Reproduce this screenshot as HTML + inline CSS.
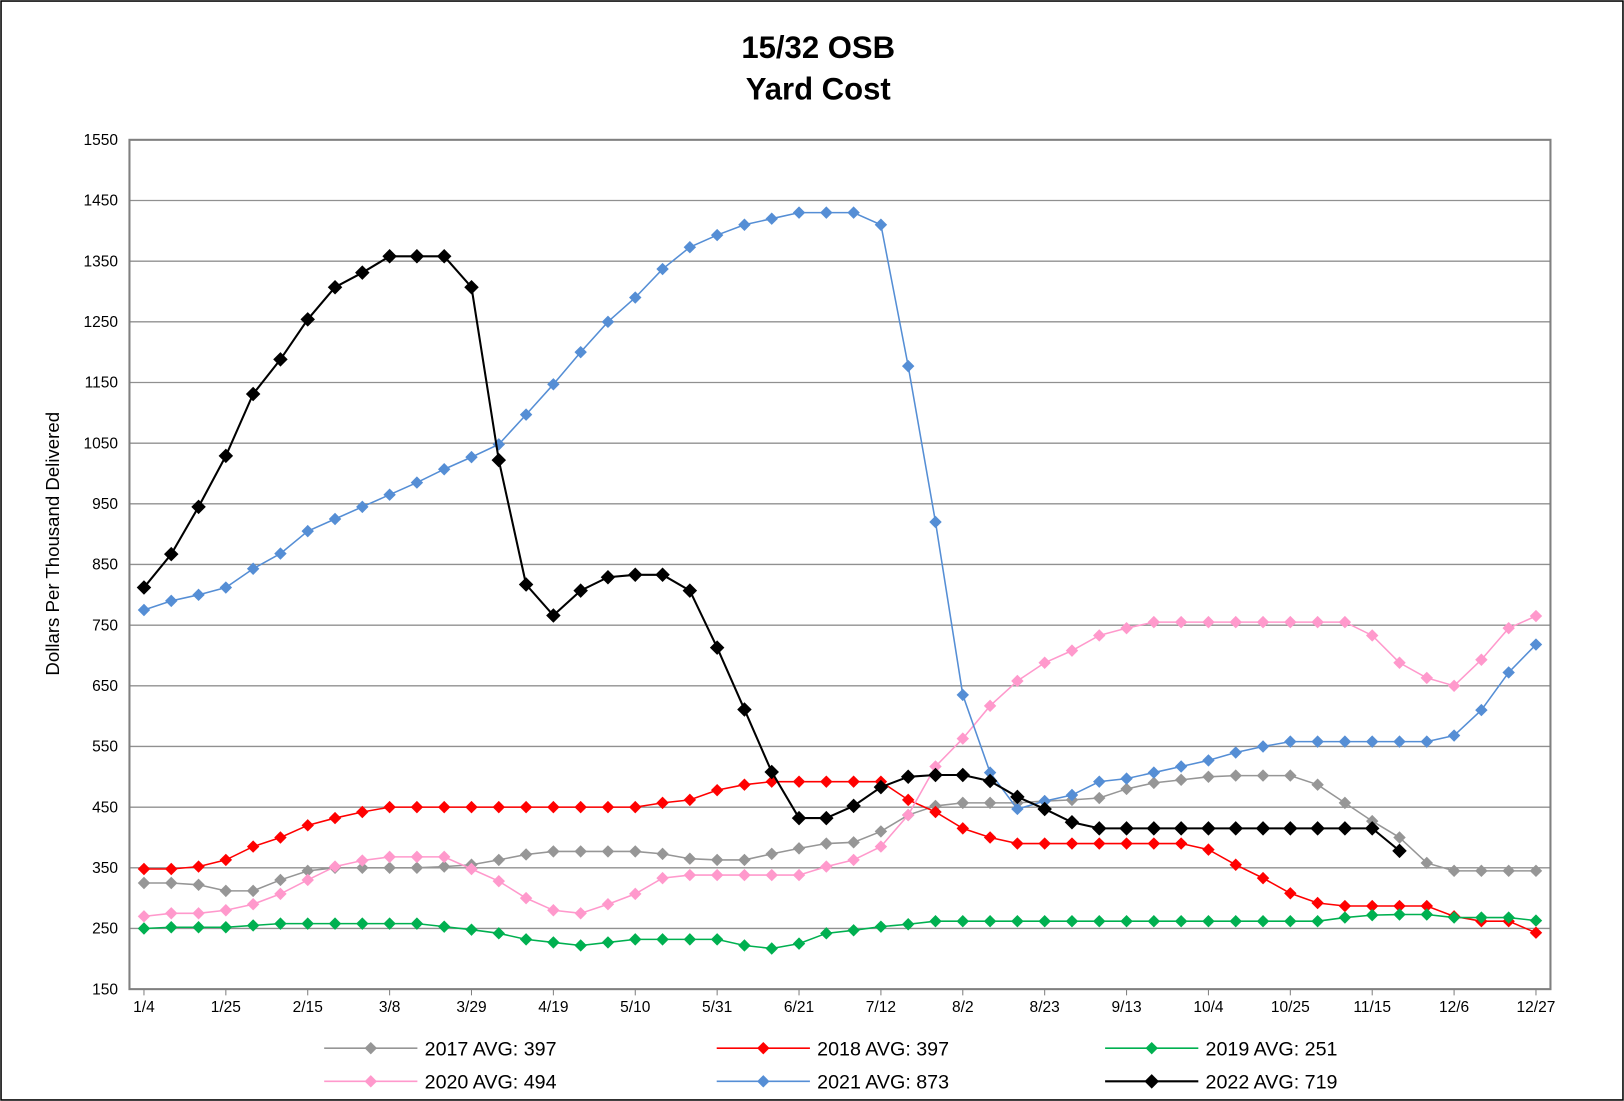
<!DOCTYPE html>
<html><head><meta charset="utf-8"><style>
html,body{margin:0;padding:0;background:#fff}
svg{display:block;font-family:"Liberation Sans",Arial,sans-serif}
</style></head><body>
<svg id="chart" width="1624" height="1101" viewBox="0 0 1568 1063" preserveAspectRatio="none">
<rect x="1" y="1" width="1566" height="1061" fill="#fff" stroke="#000" stroke-width="1.5"/>
<text x="790" y="56" text-anchor="middle" font-size="30" font-weight="bold">15/32 OSB</text>
<text x="790" y="96" text-anchor="middle" font-size="30" font-weight="bold">Yard Cost</text>
<text transform="translate(57,525) rotate(-90)" text-anchor="middle" font-size="18">Dollars Per Thousand Delivered</text>
<g id="grid"></g>
<g id="yticks"></g>
<g id="xticks"></g>
<rect x="125" y="135" width="1372" height="820" fill="none" stroke="#808080" stroke-width="2"/>
<g id="series"></g>
<g id="legend"></g>
</svg>
<script>
const xLabels=["1/4","1/25","2/15","3/8","3/29","4/19","5/10","5/31","6/21","7/12","8/2","8/23","9/13","10/4","10/25","11/15","12/6","12/27"];
const yTicks=[150,250,350,450,550,650,750,850,950,1050,1150,1250,1350,1450,1550];
const s2017=[325,325,322,312,312,330,345,350,350,350,350,352,355,363,372,377,377,377,377,373,365,363,363,373,382,390,392,410,437,452,457,457,457,460,462,465,480,490,495,500,502,502,502,487,457,427,400,358,345,345,345,345];
const s2018=[348,348,352,363,385,400,420,432,442,450,450,450,450,450,450,450,450,450,450,457,462,478,487,492,492,492,492,492,462,442,415,400,390,390,390,390,390,390,390,380,355,333,308,292,287,287,287,287,270,262,262,243];
const s2019=[250,252,252,252,255,258,258,258,258,258,258,253,248,242,232,227,222,227,232,232,232,232,222,217,225,242,247,253,257,262,262,262,262,262,262,262,262,262,262,262,262,262,262,262,268,272,273,273,268,268,268,263];
const s2020=[270,275,275,280,290,307,330,352,362,368,368,368,348,328,300,280,275,290,307,333,338,338,338,338,338,352,363,385,437,517,563,617,658,688,708,733,745,755,755,755,755,755,755,755,755,733,688,663,650,693,745,765];
const s2021=[775,790,800,812,843,868,905,925,945,965,985,1007,1027,1048,1097,1147,1200,1250,1290,1337,1373,1393,1410,1420,1430,1430,1430,1410,1177,920,635,507,447,460,470,492,497,507,517,527,540,550,558,558,558,558,558,558,568,610,672,718];
const s2022=[812,867,945,1029,1131,1188,1254,1307,1331,1358,1358,1358,1307,1022,817,766,807,829,833,833,807,713,611,508,432,432,452,483,500,503,503,493,467,447,425,415,415,415,415,415,415,415,415,415,415,415,378];
const seriesNames=["2017 AVG: 397","2018 AVG: 397","2019 AVG: 251","2020 AVG: 494","2021 AVG: 873","2022 AVG: 719"];
const seriesColors=["#969696","#ff0000","#00b050","#ff99cc","#558ed5","#000000"];
const allSeries=[s2017,s2018,s2019,s2020,s2021,s2022];
const NS="http://www.w3.org/2000/svg";
const X=i=>139+i*26.353, Y=v=>955-(v-150)*820/1400;
function mk(t,a,p){const e=document.createElementNS(NS,t);for(const k in a)e.setAttribute(k,a[k]);p.appendChild(e);return e;}
const grid=document.getElementById('grid'),yt=document.getElementById('yticks'),xt=document.getElementById('xticks');
yTicks.forEach(v=>{
 const l=mk('line',{x1:125,x2:1497,y1:Y(v),y2:Y(v),stroke:'#909090','stroke-width':1.3},grid);
 
 
 const t=mk('text',{x:114,y:Y(v)+5,'text-anchor':'end','font-size':15},yt);t.textContent=v;
 
 
});
xLabels.forEach((s,j)=>{
 const t=mk('text',{x:X(j*3),y:977,'text-anchor':'middle','font-size':15},xt);t.textContent=s;
 
 
 const k=mk('line',{x1:X(j*3),x2:X(j*3),y1:955,y2:961,stroke:'#808080'},xt);
 
 
});
const sg=document.getElementById('series');
function marker(g,x,y,c,r){const m=mk('polygon',{points:`${x},${y-r} ${x+r},${y} ${x},${y+r} ${x-r},${y}`,fill:c},g);return m;}
allSeries.forEach((d,si)=>{
 const g=mk('g',{},sg);
 
 
 const p=mk('polyline',{points:d.map((v,i)=>X(i)+','+Y(v)).join(' '),fill:'none',stroke:seriesColors[si],'stroke-width':si==5?2:1.5},g);
 
 
 d.forEach((v,i)=>{const m=marker(g,X(i),Y(v),seriesColors[si],si==5?7:6);
  
  });
});
const lg=document.getElementById('legend');
const lx=[313,692,1067],ly=[1012,1044];
seriesNames.forEach((n,i)=>{
 const x=lx[i%3],y=ly[Math.floor(i/3)];
 const g=mk('g',{},lg);
 
 
 mk('line',{x1:x,x2:x+90,y1:y,y2:y,stroke:seriesColors[i],'stroke-width':i==5?2:1.5},g);
 marker(g,x+45,y,seriesColors[i],i==5?7:6);
 const t=mk('text',{x:x+97,y:y+7,'font-size':19},g);t.textContent=n;
});
</script>
</body></html>
